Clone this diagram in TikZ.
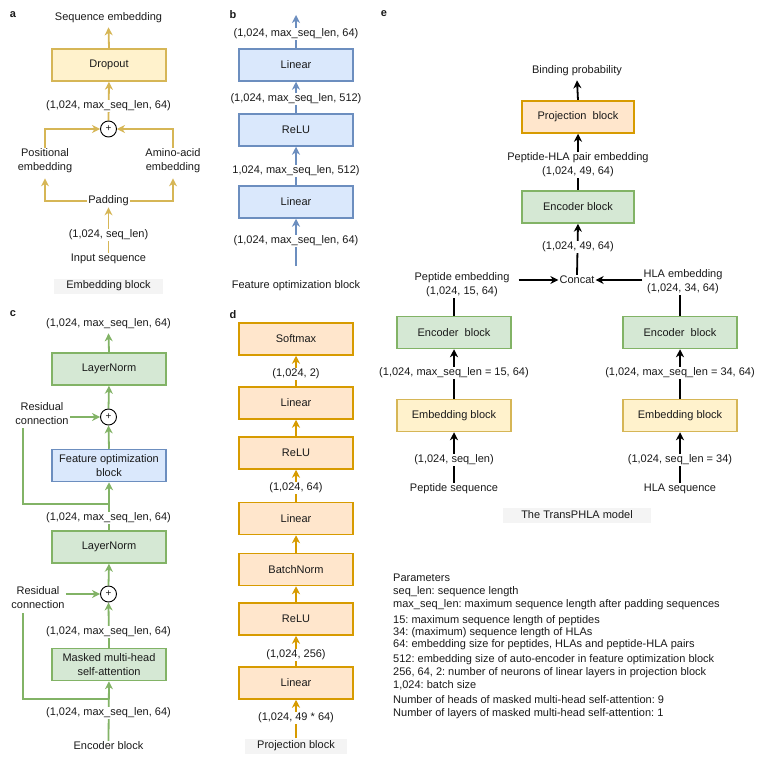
\documentclass[tikz,border=0pt]{standalone}
\usepackage{fontspec}
\setmainfont{Liberation Sans}
\usetikzlibrary{arrows.meta,backgrounds}
\definecolor{ylwF}{HTML}{FFF2CC}\definecolor{ylwD}{HTML}{D6B656}
\definecolor{bluF}{HTML}{DAE8FC}\definecolor{bluD}{HTML}{6C8EBF}
\definecolor{grnF}{HTML}{D5E8D4}\definecolor{grnD}{HTML}{82B366}
\definecolor{orgF}{HTML}{FFE6CC}\definecolor{orgD}{HTML}{D79B00}
\definecolor{txt}{HTML}{1A1A1A}
\definecolor{capbg}{HTML}{F4F4F4}
\frenchspacing
\begin{document}
\begin{tikzpicture}[x=1pt,y=-1pt,
 font=\fontsize{11}{14}\selectfont, text=txt,
 box/.style={draw, line width=1.5pt, minimum width=114pt, minimum height=32pt, inner sep=0pt, align=center},
 ybox/.style={box, fill=ylwF, draw=ylwD},
 bbox/.style={box, fill=bluF, draw=bluD},
 gbox/.style={box, fill=grnF, draw=grnD},
 obox/.style={box, fill=orgF, draw=orgD},
 lbl/.style={fill=white, inner sep=1pt, align=center},
 txtn/.style={inner sep=1pt, align=center},
 arr/.style={line width=1.8pt, -{Stealth[length=8pt,width=8pt,inset=2.5pt]}},
 ln/.style={line width=1.8pt},
 plus/.style={circle, draw=black, line width=0.9pt, minimum size=16pt, inner sep=0pt, fill=white, font=\fontsize{10}{10}\selectfont},
 capbox/.style={fill=capbg, inner ysep=2pt, inner xsep=12pt, minimum height=15pt},
 letter/.style={inner sep=0pt, font=\fontsize{11}{13}\selectfont\bfseries},
 param/.style={anchor=west, inner sep=0pt}
]
\useasboundingbox (0,0) rectangle (762,757);

% ---------------- panel letters
\node[letter] (La) at (13,15) {a};
\node[letter] (Lb) at (233,15) {b};
\node[letter] (Lc) at (13,314) {c};
\node[letter] (Ld) at (233,315) {d};
\node[letter] (Le) at (384,14) {e};

% ---------------- panel a
\node[txtn] (a-out) at (108.5,18) {Sequence embedding};
\node[ybox] (a-drop) at (109,65) {Dropout};
\node[lbl] (a-l1) at (108.5,106) {(1,024, max\_seq\_len, 64)};
\node[plus] (a-sum) at (108.5,129) {+};
\node[txtn] (a-pos) at (45,161) {Positional\\embedding};
\node[txtn] (a-aa) at (173,161) {Amino-acid\\embedding};
\node[lbl] (a-pad) at (108.5,201) {Padding};
\node[lbl] (a-l2) at (108.5,235) {(1,024, seq\_len)};
\node[txtn] (a-in) at (108.5,259) {Input sequence};
\node[capbox] (a-cap) at (108.5,286) {Embedding block};

% ---------------- panel b
\coordinate (b-top) at (296,15);
\node[lbl] (b-l1) at (296,34) {(1,024, max\_seq\_len, 64)};
\node[bbox] (b-lin2) at (296,65) {Linear};
\node[lbl] (b-l2) at (296,99) {(1,024, max\_seq\_len, 512)};
\node[bbox] (b-relu) at (296,130) {ReLU};
\node[lbl] (b-l3) at (296,171) {1,024, max\_seq\_len, 512)};
\node[bbox] (b-lin1) at (296,202) {Linear};
\node[lbl] (b-l4) at (296,241) {(1,024, max\_seq\_len, 64)};
\coordinate (b-bot) at (296,266);
\node[txtn] (b-cap) at (296,286) {Feature optimization block};

% ---------------- panel c
\node[txtn] (c-out) at (108.5,324) {(1,024, max\_seq\_len, 64)};
\node[gbox] (c-ln1) at (109,369) {LayerNorm};
\node[plus] (c-s1) at (108.5,417) {+};
\node[txtn] (c-r1) at (42,414) {Residual\\connection};
\coordinate (c-r1t) at (23,428);
\node[bbox] (c-fob) at (109,465.5) {Feature optimization\\block};
\coordinate (c-j1) at (108.5,504);
\node[lbl] (c-l1) at (108.5,518) {(1,024, max\_seq\_len, 64)};
\node[gbox] (c-ln2) at (109,547) {LayerNorm};
\node[plus] (c-s2) at (108.5,594) {+};
\node[txtn] (c-r2) at (38,597.5) {Residual\\connection};
\coordinate (c-r2t) at (23,613);
\node[lbl] (c-l2) at (108.5,632) {(1,024, max\_seq\_len, 64)};
\node[gbox] (c-att) at (109,664.5) {Masked multi-head\\self-attention};
\coordinate (c-j2) at (108.5,699);
\node[lbl] (c-l3) at (108.5,713) {(1,024, max\_seq\_len, 64)};
\node[txtn] (c-cap) at (108.5,746) {Encoder block};

% ---------------- panel d
\node[obox] (d-soft) at (296,339) {Softmax};
\node[lbl] (d-l1) at (296,374) {(1,024, 2)};
\node[obox] (d-lin3) at (296,403) {Linear};
\node[obox] (d-relu2) at (296,453) {ReLU};
\node[lbl] (d-l2) at (296,488) {(1,024, 64)};
\node[obox] (d-lin2) at (296,518.5) {Linear};
\node[obox] (d-bn) at (296,569.5) {BatchNorm};
\node[obox] (d-relu1) at (296,619) {ReLU};
\node[lbl] (d-l3) at (296,655) {(1,024, 256)};
\node[obox] (d-lin1) at (296,683) {Linear};
\node[lbl] (d-l4) at (296,718) {(1,024, 49 * 64)};
\node[capbox] (d-cap) at (296,746) {Projection block};

% ---------------- panel e
\node[txtn] (e-out) at (577,71) {Binding probability};
\node[obox, minimum width=112pt] (e-proj) at (578,117) {Projection\ \ block};
\node[lbl] (e-pair) at (578,165) {Peptide-HLA pair embedding\\(1,024, 49, 64)};
\node[gbox, minimum width=112pt] (e-enc) at (578,207) {Encoder block};
\node[lbl] (e-l1) at (578,247) {(1,024, 49, 64)};
\node[txtn] (e-cat) at (577,280) {Concat};
\node[txtn] (e-pemb) at (462,285) {Peptide embedding\\(1,024, 15, 64)};
\node[txtn] (e-hemb) at (683,282) {HLA embedding\\(1,024, 34, 64)};
\node[gbox] (e-encL) at (454,332.5) {Encoder\ \ block};
\node[lbl] (e-lL) at (454,373) {(1,024, max\_seq\_len = 15, 64)};
\node[ybox] (e-embL) at (454,415.5) {Embedding block};
\node[lbl] (e-sL) at (454,460) {(1,024, seq\_len)};
\node[txtn] (e-inL) at (454,489) {Peptide sequence};
\node[gbox] (e-encR) at (680,332.5) {Encoder\ \ block};
\node[lbl] (e-lR) at (680,373) {(1,024, max\_seq\_len = 34, 64)};
\node[ybox] (e-embR) at (680,415.5) {Embedding block};
\node[lbl] (e-sR) at (680,460) {(1,024, seq\_len = 34)};
\node[txtn] (e-inR) at (680,489) {HLA sequence};
\node[capbox, inner xsep=18pt] (e-cap) at (577,515) {The TransPHLA model};

% ---------------- parameters
\node[param] (p1) at (393,578) {Parameters};
\node[param] (p2) at (393,592) {seq\_len: sequence length};
\node[param] (p3) at (393,605) {max\_seq\_len: maximum sequence length after padding sequences};
\node[param] (p4) at (393,621) {15: maximum sequence length of peptides};
\node[param] (p5) at (393,632.5) {34: (maximum) sequence length of HLAs};
\node[param] (p6) at (393,645) {64: embedding size for peptides, HLAs and peptide-HLA pairs};
\node[param] (p7) at (393,660) {512: embedding size of auto-encoder in feature optimization block};
\node[param] (p8) at (393,673) {256, 64, 2: number of neurons of linear layers in projection block};
\node[param] (p9) at (393,685) {1,024: batch size};
\node[param] (p10) at (393,700) {Number of heads of masked multi-head self-attention: 9};
\node[param] (p11) at (393,714) {Number of layers of masked multi-head self-attention: 1};

% ---------------- connectors (behind labels)
\begin{scope}[on background layer]
 % a
 \draw[arr, ylwD] (a-drop.north) -- ([yshift=-3pt]a-out.south);
 \draw[arr, ylwD] (a-sum.north) -- (a-drop.south);
 \draw[arr, ylwD] (a-pos.north) |- (a-sum.west);
 \draw[arr, ylwD] (a-aa.north) |- (a-sum.east);
 \draw[arr, ylwD] (a-pad.west) -| ([yshift=-4pt]a-pos.south);
 \draw[arr, ylwD] (a-pad.east) -| ([yshift=-4pt]a-aa.south);
 \draw[arr, ylwD] (a-in.north) -- (a-pad.south);
 % b
 \draw[arr, bluD] (b-lin2.north) -- (b-top);
 \draw[arr, bluD] (b-relu.north) -- (b-lin2.south);
 \draw[arr, bluD] (b-lin1.north) -- (b-relu.south);
 \draw[arr, bluD] (b-bot) -- (b-lin1.south);
 % c
 \draw[arr, grnD] (c-ln1.north) -- ([yshift=-3pt]c-out.south);
 \draw[arr, grnD] (c-s1.north) -- (c-ln1.south);
 \draw[arr, grnD] (c-r1.east |- c-s1.west) -- (c-s1.west);
 \draw[ln, grnD] (c-r1t) |- (c-j1);
 \draw[arr, grnD] (c-fob.north) -- (c-s1.south);
 \draw[arr, grnD] (c-ln2.north) -- (c-fob.south);
 \draw[arr, grnD] (c-s2.north) -- (c-ln2.south);
 \draw[arr, grnD] (c-r2.east |- c-s2.west) -- (c-s2.west);
 \draw[ln, grnD] (c-r2t) |- (c-j2);
 \draw[arr, grnD] (c-att.north) -- (c-s2.south);
 \draw[arr, grnD] (c-cap.north) -- (c-att.south);
 % d
 \draw[arr, orgD] (d-lin3.north) -- (d-soft.south);
 \draw[arr, orgD] (d-relu2.north) -- (d-lin3.south);
 \draw[arr, orgD] (d-lin2.north) -- (d-relu2.south);
 \draw[arr, orgD] (d-bn.north) -- (d-lin2.south);
 \draw[arr, orgD] (d-relu1.north) -- (d-bn.south);
 \draw[arr, orgD] (d-lin1.north) -- (d-relu1.south);
 \draw[arr, orgD] (d-cap.north) -- (d-lin1.south);
 % e
 \draw[arr, black] (e-proj.north) -- ([yshift=-3pt]e-out.south);
 \draw[arr, black] (e-enc.north) -- (e-proj.south);
 \draw[arr, black] (e-cat.north) -- (e-enc.south);
 \draw[arr, black, shorten <=8pt] (e-pemb.east |- e-cat.west) -- (e-cat.west);
 \draw[arr, black] (e-hemb.west |- e-cat.east) -- (e-cat.east);
 \draw[ln, black] (e-encL.north) -- (e-encL.north |- e-pemb.south);
 \draw[ln, black] (e-encR.north) -- (e-encR.north |- e-hemb.south);
 \draw[arr, black] (e-embL.north) -- (e-encL.south);
 \draw[arr, black] (e-embR.north) -- (e-encR.south);
 \draw[arr, black] (e-inL.north) -- (e-embL.south);
 \draw[arr, black] (e-inR.north) -- (e-embR.south);
\end{scope}
\end{tikzpicture}
\end{document}
